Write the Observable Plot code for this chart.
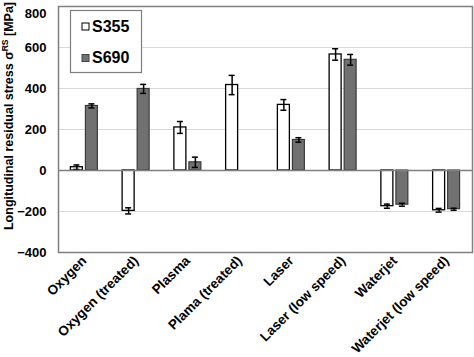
<!DOCTYPE html>
<html><head><meta charset="utf-8">
<script src="https://cdn.jsdelivr.net/npm/d3@7"></script>
<script src="https://cdn.jsdelivr.net/npm/@observablehq/plot@0.6"></script>
<style>
body{margin:0;background:#fff;}
#chart{position:relative;width:474px;height:357px;}
</style>
</head><body><div id="chart"></div>
<script>
const categories = ["Oxygen","Oxygen (treated)","Plasma","Plama (treated)","Laser","Laser (low speed)","Waterjet","Waterjet (low speed)"];
const seriesNames = ["S355","S690"];
const s355 = [16, -197, 210, 417, 320, 566, -174, -194];
const s355Err = [11, 15, 29, 47, 26, 28, 10, 9];
const s690 = [315, 398, 40, null, 149, 540, -167, -189];
const s690Err = [10, 22, 25, null, 11, 26, 7, 5];
const yTicks = [-400, -200, 0, 200, 400, 600, 800];
const gridValues = [-200, 200, 400, 600];
const yLabel = ["Longitudinal residual stress σ", "RS", " [MPa]"];

function rows(vals, errs, s) {
  return categories.map((c, i) => ({category: c, series: s, value: vals[i], err: errs[i]}))
    .filter(d => d.value != null);
}
const r355 = rows(s355, s355Err, seriesNames[0]);
const r690 = rows(s690, s690Err, seriesNames[1]);

const W = 474, H = 357, mL = 58, mR = 2, mT = 6, mB = 105;
const band = (W - mL - mR) / categories.length;
const barW = 12, gap = 3, capW = 6;
const off = (barW + gap) / 2;
const inset = (band - barW) / 2;
const capInset = (band - capW) / 2;
const FONT = "'Liberation Sans', Arial, sans-serif";

function errMarks(data, dx, color) {
  return [
    Plot.ruleX(data, {x: "category", y1: d => d.value - d.err, y2: d => d.value + d.err, dx, stroke: color, strokeWidth: 1.5}),
    Plot.tickY(data, {x: "category", y: d => d.value + d.err, dx, insetLeft: capInset, insetRight: capInset, stroke: color, strokeWidth: 1.5}),
    Plot.tickY(data, {x: "category", y: d => d.value - d.err, dx, insetLeft: capInset, insetRight: capInset, stroke: color, strokeWidth: 1.5})
  ];
}

const svg = Plot.plot({
  width: W, height: H,
  marginLeft: mL, marginRight: mR, marginTop: mT, marginBottom: mB,
  style: {fontFamily: FONT, fontSize: "13px", fontWeight: "bold", color: "#000", background: "white", overflow: "visible"},
  x: {domain: categories, padding: 0, round: false, tickRotate: -45, tickSize: 0, tickPadding: 6, label: null},
  y: {domain: [-400, 800], ticks: yTicks, tickSize: 0, tickPadding: 12, label: null},
  marks: [
    Plot.ruleY(gridValues, {stroke: "#d9d9d9", strokeWidth: 1}),
    Plot.barY(r355, {x: "category", y: "value", dx: -off, insetLeft: inset, insetRight: inset, fill: "white", stroke: "#000", strokeWidth: 1.3}),
    Plot.barY(r690, {x: "category", y: "value", dx: off, insetLeft: inset, insetRight: inset, fill: "url(#hatch690)", stroke: "#333", strokeWidth: 1.1}),
    ...errMarks(r355, -off, "#000"),
    ...errMarks(r690, off, "#000"),
    Plot.ruleY([0], {stroke: "#7f7f7f", strokeWidth: 1.5}),
    Plot.frame({stroke: "#7f7f7f", strokeWidth: 1.5})
  ]
});

const s = d3.select(svg);
s.insert("defs", ":first-child").html(
  '<pattern id="hatch690" width="2" height="2" patternUnits="userSpaceOnUse">' +
  '<rect width="2" height="2" fill="#aaaaaa"/><rect width="1" height="1" fill="#383838"/>' +
  '<rect x="1" y="1" width="1" height="1" fill="#383838"/></pattern>');

s.selectAll("[aria-label^='x-axis'] text").style("font-size", "13.5px");
// keep the top tick label inside the picture
s.selectAll("[aria-label^='y-axis'] text").filter(function() { return this.textContent === String(yTicks[yTicks.length - 1]); })
  .attr("dy", "0.6em");

// legend
const lg = s.append("g").attr("transform", "translate(70.5,10.5)");
lg.append("rect").attr("width", 71).attr("height", 62).attr("fill", "white").attr("stroke", "#7f7f7f").attr("stroke-width", 1.2);
const fills = ["white", "url(#hatch690)"];
seriesNames.forEach((name, i) => {
  const yb = 21 + i * 31.5;
  lg.append("rect").attr("x", 11.5).attr("y", yb - 8.5).attr("width", 7).attr("height", 7)
    .attr("fill", fills[i]).attr("stroke", i ? "#444" : "#000").attr("stroke-width", 1);
  lg.append("text").attr("x", 21.5).attr("y", yb).attr("text-anchor", "start").attr("font-size", "16px").attr("font-weight", "bold")
    .attr("font-family", FONT).attr("fill", "#000").text(name);
});

// y label
const t = s.append("text").attr("transform", "rotate(-90)").attr("x", -116).attr("y", 13)
  .attr("text-anchor", "middle").attr("font-size", "12.5px").attr("font-weight", "bold").attr("font-family", FONT).attr("fill", "#000");
t.append("tspan").text(yLabel[0]);
t.append("tspan").attr("dy", -5).attr("font-size", "8.5px").text(yLabel[1]);
t.append("tspan").attr("dy", 5).text(yLabel[2]);

document.getElementById("chart").appendChild(svg);
</script>
</body></html>
